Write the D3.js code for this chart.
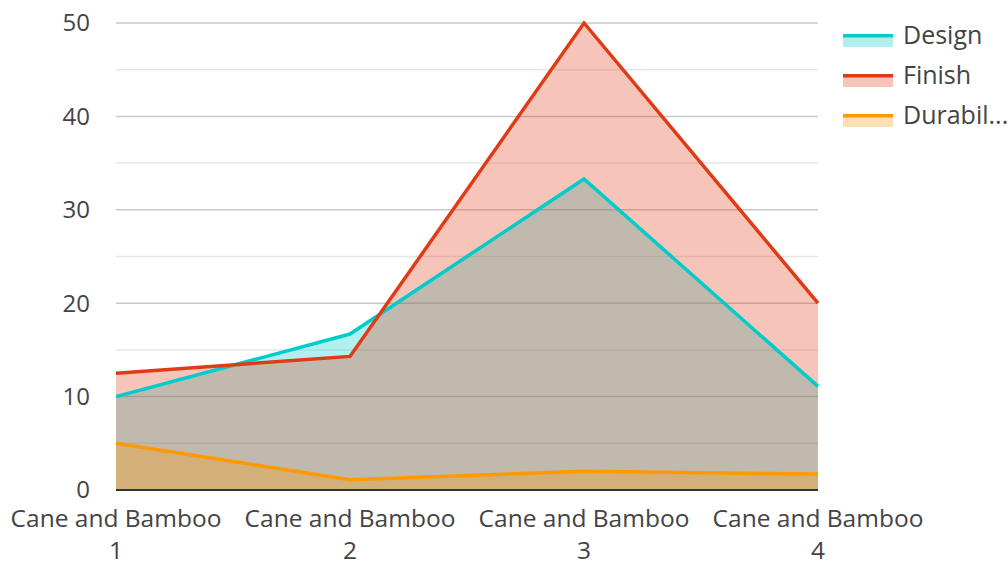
<!doctype html>
<html>
<head>
<style>
  body { margin: 0; background: #fff; }
  svg text { font-family: "Open Sans", "Noto Sans", sans-serif; fill: #444; }
</style>
<script src="https://d3js.org/d3.v7.min.js"></script>
</head>
<body>
<svg width="1008" height="562"></svg>
<script>
  var categories = ["Cane and Bamboo|1", "Cane and Bamboo|2", "Cane and Bamboo|3", "Cane and Bamboo|4"];
  var seriesNames = ["Design", "Finish", "Durability"];
  var legendLabels = ["Design", "Finish", "Durabil..."];
  var designValues = [10, 16.7, 33.3, 11.1];
  var finishValues = [12.5, 14.3, 50, 20];
  var durabilityValues = [5, 1.1, 2, 1.7];
  var yTicks = [0, 10, 20, 30, 40, 50];
  var minorTicks = [5, 15, 25, 35, 45];

  var colors = ["#00cccc", "#e03a16", "#ff9900"];
  var allValues = [designValues, finishValues, durabilityValues];

  var svg = d3.select("svg");
  var plotLeft = 116, plotRight = 818, plotTop = 23, plotBottom = 490;

  var x = d3.scalePoint().domain(categories).range([plotLeft, plotRight]);
  var y = d3.scaleLinear().domain([0, 50]).range([plotBottom, plotTop]);

  // grid
  svg.append("g").selectAll("line").data(minorTicks).enter().append("line")
     .attr("x1", plotLeft).attr("x2", plotRight)
     .attr("y1", function(d) { return y(d); }).attr("y2", function(d) { return y(d); })
     .attr("stroke", "#e6e6e6").attr("stroke-width", 1.5);
  svg.append("g").selectAll("line").data(yTicks.filter(function(d) { return d > 0; })).enter().append("line")
     .attr("x1", plotLeft).attr("x2", plotRight)
     .attr("y1", function(d) { return y(d); }).attr("y2", function(d) { return y(d); })
     .attr("stroke", "#c8c8c8").attr("stroke-width", 1.5);

  svg.append("g").selectAll("text").data(yTicks).enter().append("text")
     .attr("x", 90).attr("y", function(d) { return y(d); })
     .attr("dy", "0.35em").attr("text-anchor", "end")
     .attr("font-size", "24px")
     .text(function(d) { return d; });

  var area = d3.area()
     .x(function(d, i) { return x(categories[i]); })
     .y0(y(0))
     .y1(function(d) { return y(d); });
  var line = d3.line()
     .x(function(d, i) { return x(categories[i]); })
     .y(function(d) { return y(d); });

  allValues.forEach(function(vals, k) {
    svg.append("path").attr("d", area(vals))
       .attr("fill", colors[k]).attr("fill-opacity", 0.3);
  });
  allValues.forEach(function(vals, k) {
    svg.append("path").attr("d", line(vals))
       .attr("fill", "none").attr("stroke", colors[k]).attr("stroke-width", 3.5);
  });

  // baseline
  svg.append("line").attr("x1", plotLeft).attr("x2", plotRight)
     .attr("y1", y(0)).attr("y2", y(0))
     .attr("stroke", "#333").attr("stroke-width", 2);

  // x labels
  var xl = svg.append("g").selectAll("text").data(categories).enter().append("text")
     .attr("x", function(d) { return x(d); })
     .attr("y", 527)
     .attr("text-anchor", "middle")
     .attr("font-size", "24.5px");
  xl.append("tspan").attr("x", function(d) { return x(d); })
     .text(function(d) { return d.split("|")[0]; });
  xl.append("tspan").attr("x", function(d) { return x(d); }).attr("dy", 32)
     .text(function(d) { return d.split("|")[1]; });

  // legend
  var lg = svg.append("g").selectAll("g").data(seriesNames).enter().append("g")
     .attr("transform", function(d, i) { return "translate(843," + (35 + i * 40) + ")"; });
  lg.append("rect").attr("x", 0).attr("y", 0).attr("width", 50).attr("height", 12)
     .attr("fill", function(d, i) { return colors[i]; }).attr("fill-opacity", 0.3);
  lg.append("rect").attr("x", 0).attr("y", -1).attr("width", 50).attr("height", 3.5)
     .attr("fill", function(d, i) { return colors[i]; });
  lg.append("text").attr("x", 60).attr("y", 0).attr("dy", "0.35em")
     .attr("font-size", "25px").attr("fill", "#333")
     .text(function(d, i) { return legendLabels[i]; });
</script>
</body>
</html>
